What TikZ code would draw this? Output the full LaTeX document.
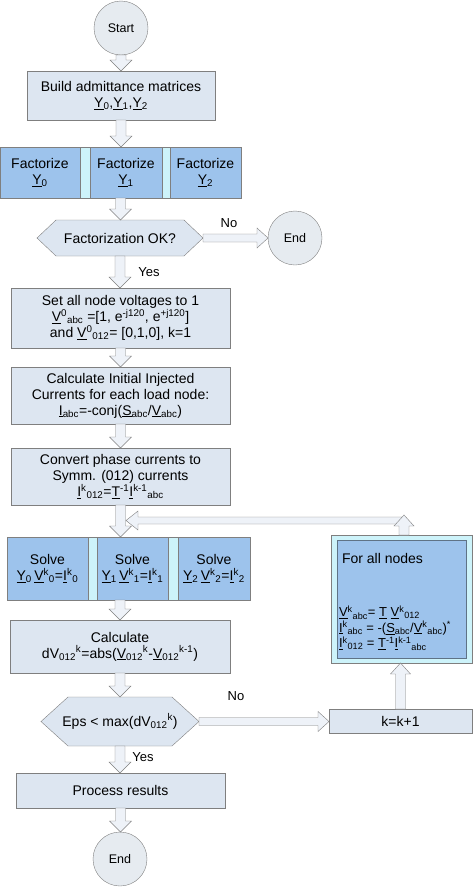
\documentclass[tikz,border=0pt]{standalone}
\usepackage{fontspec}
\setmainfont{Liberation Sans}
\usetikzlibrary{calc,backgrounds}

\definecolor{boxgrey}{HTML}{DDE6F1}
\definecolor{boxblue}{HTML}{9DC3EC}
\definecolor{gapcyan}{HTML}{CDF3FA}
\definecolor{ringgrey}{HTML}{E6EBF0}
\definecolor{arrfill}{HTML}{EEF2F8}
\definecolor{linegrey}{HTML}{7F7F7F}
\definecolor{innerline}{HTML}{5F7386}

\newcommand\und[1]{\underline{#1}}
\newcommand\lo[1]{\textsubscript{#1}}
\newcommand\hi[1]{\textsuperscript{#1}}

% hohle Blockpfeile
\newcommand\arrdown[2]{\filldraw[arr] let \p1=(#1), \p2=(#2) in
  (\x1-5pt,\y1) -- (\x1+5pt,\y1) -- (\x1+5pt,\y2+11pt) -- (\x1+11pt,\y2+11pt) -- (\x1,\y2)
  -- (\x1-11pt,\y2+11pt) -- (\x1-5pt,\y2+11pt) -- cycle;}
\newcommand\arrup[2]{\filldraw[arr] let \p1=(#1), \p2=(#2) in
  (\x1-5pt,\y1) -- (\x1-5pt,\y2-11pt) -- (\x1-10pt,\y2-11pt) -- (\x1,\y2)
  -- (\x1+10pt,\y2-11pt) -- (\x1+5pt,\y2-11pt) -- (\x1+5pt,\y1) -- cycle;}
\newcommand\arrright[2]{\filldraw[arr] let \p1=(#1), \p2=(#2) in
  (\x1,\y1+4pt) -- (\x2-11pt,\y1+4pt) -- (\x2-11pt,\y1+10pt) -- (\x2,\y1)
  -- (\x2-11pt,\y1-10pt) -- (\x2-11pt,\y1-4pt) -- (\x1,\y1-4pt) -- cycle;}
\newcommand\arrleft[2]{\filldraw[arr] let \p1=(#1), \p2=(#2) in
  (\x1,\y1+3.5pt) -- (\x2+12pt,\y1+3.5pt) -- (\x2+12pt,\y1+9.5pt) -- (\x2,\y1)
  -- (\x2+12pt,\y1-9.5pt) -- (\x2+12pt,\y1-3.5pt) -- (\x1,\y1-3.5pt) -- cycle;}

\begin{document}
\begin{tikzpicture}[x=1pt, y=-1pt,
  box/.style={draw=linegrey, fill=boxgrey, align=center, inner sep=0pt, outer sep=0pt,
    font=\fontsize{14}{16}\selectfont},
  bluebox/.style={box, fill=boxblue},
  gaprow/.style={draw=linegrey, fill=gapcyan, inner sep=0pt, outer sep=0pt},
  ring/.style={circle, draw=linegrey, fill=ringgrey, minimum size=54, inner sep=0pt, outer sep=0pt,
    font=\fontsize{12.5}{15}\selectfont},
  dec/.style={align=center, inner sep=0pt, outer sep=0pt, font=\fontsize{14}{16}\selectfont},
  hexa/.style={draw=linegrey, fill=boxgrey},
  arr/.style={draw=linegrey, fill=arrfill, line join=miter},
  lbl/.style={font=\fontsize{13}{15}\selectfont}]
\useasboundingbox (0,0) rectangle (474,887);

\node[ring] (start) at (121,28) {Start};
\node[box, minimum width=188, minimum height=49] (build) at (121,95.5)
  {Build admittance matrices\\ \und{Y}\lo{0},\und{Y}\lo{1},\und{Y}\lo{2}};

\node[gaprow, minimum width=241, minimum height=51] (facrow) at (120.5,172.5) {};
\node[bluebox, minimum width=80, minimum height=51] (fac0) at (40,172.5)    {Factorize\\ \und{Y}\lo{0}};
\node[bluebox, minimum width=72, minimum height=51] (fac1) at (126,172.5)   {Factorize\\ \und{Y}\lo{1}};
\node[bluebox, minimum width=71, minimum height=51] (fac2) at (205.5,172.5) {Factorize\\ \und{Y}\lo{2}};

\node[dec, minimum width=166, minimum height=36] (ok) at (120,238) {Factorization OK?};
\node[ring] (stop) at (295,238) {End};
\node[lbl] (no1) at (229,223) {No};
\node[lbl] (yes1) at (149,272) {Yes};

\node[box, minimum width=219, minimum height=60] (init) at (120.5,318)
  {Set all node voltages to 1\\ \und{V}\hi{0}\lo{abc} =[1, e\hi{-j120}, e\hi{+j120}]\\
   and \und{V}\hi{0}\lo{012}= [0,1,0], k=1};
\node[box, minimum width=219, minimum height=57] (inj) at (120.5,395.5)
  {Calculate Initial Injected\\ Currents for each load node:\\
   \und{I}\lo{abc}=-conj(\und{S}\lo{abc}/\und{V}\lo{abc})};
\node[box, minimum width=219, minimum height=57] (conv) at (120.5,476.5)
  {Convert phase currents to\\ Symm. (012) currents\\
   \und{I}\hi{k}\lo{012}=\und{T}\hi{-1}\und{I}\hi{k-1}\lo{abc}};

\node[gaprow, minimum width=243, minimum height=63] (solverow) at (128.5,568.5) {};
\node[bluebox, minimum width=81, minimum height=63] (solve0) at (47.5,568.5)
  {Solve\\ \und{Y}\lo{0}\,\und{V}\hi{k}\lo{0}=\und{I}\hi{k}\lo{0}};
\node[bluebox, minimum width=71, minimum height=63] (solve1) at (132.5,568.5)
  {Solve\\ \und{Y}\lo{1}\,\und{V}\hi{k}\lo{1}=\und{I}\hi{k}\lo{1}};
\node[bluebox, minimum width=72, minimum height=63] (solve2) at (214,568.5)
  {Solve\\ \und{Y}\lo{2}\,\und{V}\hi{k}\lo{2}=\und{I}\hi{k}\lo{2}};

\node[gaprow, minimum width=141, minimum height=128] (allbox) at (401.5,599) {};
\node[draw=innerline, fill=boxblue, minimum width=129, minimum height=118, inner sep=0pt] (allin) at (401.5,599) {};
\node[dec, anchor=west] (allhead) at (342,558) {For all nodes};
\node[dec, anchor=west, align=left, font=\fontsize{13}{15.5}\selectfont] (alleq) at (339,628)
  {\und{V}\hi{k}\lo{abc}= \und{T} \und{V}\hi{k}\lo{012}\\
   \und{I}\hi{k}\lo{abc} = -(\und{S}\lo{abc}/\und{V}\hi{k}\lo{abc})\hi{*}\\
   \und{I}\hi{k}\lo{012} = \und{T}\hi{-1}\und{I}\hi{k-1}\lo{abc}};

\node[box, minimum width=220, minimum height=53] (dv) at (120,646.5)
  {Calculate\\ dV\lo{012}\hi{k}=abs(\und{V}\lo{012}\hi{k}-\und{V}\lo{012}\hi{k-1})};
\node[dec, minimum width=158, minimum height=49] (eps) at (120,721.5) {Eps < max(dV\lo{012}\hi{k})};
\node[box, minimum width=143, minimum height=24] (kinc) at (400.5,721) {k=k+1};
\node[lbl] (no2) at (236,696) {No};
\node[lbl] (yes2) at (143,757) {Yes};
\node[box, minimum width=209, minimum height=35] (proc) at (120.5,790.5) {Process results};
\node[ring] (fin) at (120,859) {End};

\begin{scope}[on background layer]
\filldraw[hexa] (ok.west) -- ([xshift=19pt]ok.north west) -- ([xshift=-19pt]ok.north east) -- (ok.east)
  -- ([xshift=-19pt]ok.south east) -- ([xshift=19pt]ok.south west) -- cycle;
\filldraw[hexa] (eps.west) -- ([xshift=27pt]eps.north west) -- ([xshift=-27pt]eps.north east) -- (eps.east)
  -- ([xshift=-27pt]eps.south east) -- ([xshift=27pt]eps.south west) -- cycle;
\end{scope}

\arrdown{start.south}{build.north}
\arrdown{build.south}{facrow.north}
\arrdown{facrow.south}{ok.south |- 0,220}
\arrright{ok.east}{stop.west}
\arrdown{ok.south}{init.north}
\arrdown{init.south}{inj.north}
\arrdown{inj.south}{conv.north}
\arrdown{conv.south}{solverow.north}
\arrdown{solverow.south -| dv.north}{dv.north}
\arrdown{dv.south}{eps.south |- 0,697}
\arrright{eps.east}{kinc.west}
\arrup{kinc.north}{allbox.south}
\arrdown{eps.south}{proc.north}
\arrdown{proc.south}{fin.north}

\coordinate (loop) at (404,520.5);
\coordinate (back) at (126,520.5);
\coordinate (looptop) at (404,515);
\arrleft{loop}{back}
\arrup{allbox.north -| loop}{looptop}
\end{tikzpicture}
\end{document}
